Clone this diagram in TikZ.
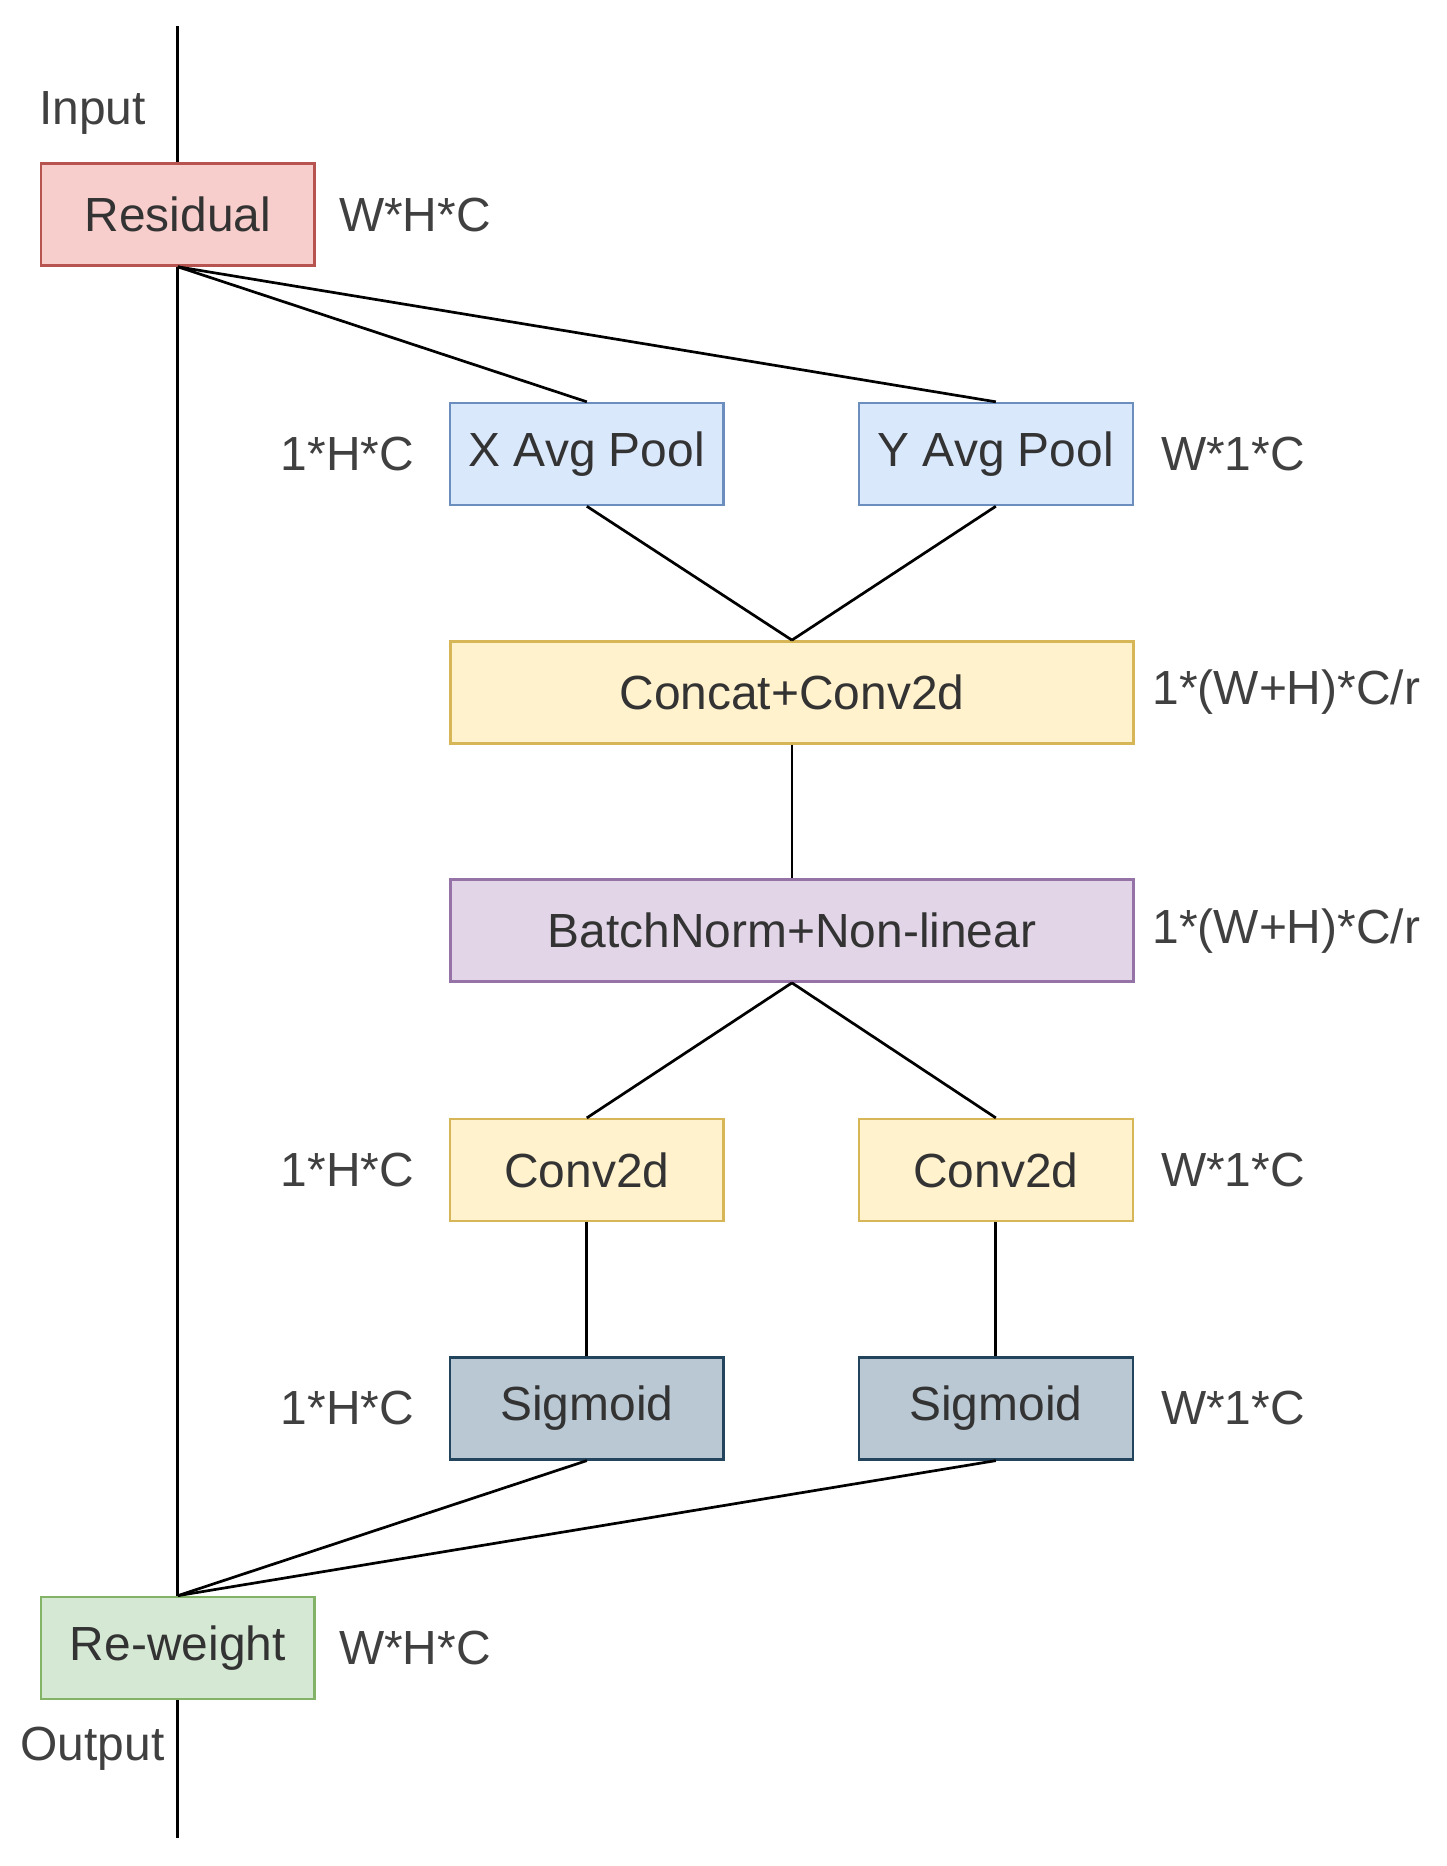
\documentclass[tikz,border=0pt]{standalone}
\usepackage{fontspec}
\setmainfont{Liberation Sans}
\begin{document}
\begin{tikzpicture}[x=0.02cm,y=-0.02cm,
  box/.style={draw,line width=1.2pt,minimum width=4.62cm,minimum height=1.72cm,inner sep=0pt,text=black!80,font=\fontsize{23}{27}\selectfont},
  wide/.style={box,minimum width=11.52cm},
  lab/.style={text=black!75,font=\fontsize{23}{27}\selectfont},
  ln/.style={line width=1.3pt}]
\useasboundingbox (0,0) rectangle (1220,1574);
\definecolor{rf}{HTML}{F8CECC}\definecolor{rs}{HTML}{B85450}
\definecolor{bf}{HTML}{DAE8FC}\definecolor{bs}{HTML}{6C8EBF}
\definecolor{yf}{HTML}{FFF2CC}\definecolor{ys}{HTML}{D6B656}
\definecolor{pf}{HTML}{E1D5E7}\definecolor{ps}{HTML}{9673A6}
\definecolor{gf}{HTML}{D5E8D4}\definecolor{gs}{HTML}{82B366}
\definecolor{sf}{HTML}{BAC8D3}\definecolor{ss}{HTML}{23445D}
\coordinate (top) at (150,22);
\coordinate (bot) at (150,1550);
\draw[ln] (top) -- (bot);
\node[box,fill=rf,draw=rs] (res) at (150,181) {Residual};
\node[box,fill=bf,draw=bs] (xp) at (495,383) {X Avg Pool};
\node[box,fill=bf,draw=bs] (yp) at (840,383) {Y Avg Pool};
\node[wide,fill=yf,draw=ys] (cc) at (668,584) {Concat+Conv2d};
\node[wide,fill=pf,draw=ps] (bn) at (668,785) {BatchNorm+Non-linear};
\node[box,fill=yf,draw=ys] (c1) at (495,987) {Conv2d};
\node[box,fill=yf,draw=ys] (c2) at (840,987) {Conv2d};
\node[box,fill=sf,draw=ss] (s1) at (495,1188) {Sigmoid};
\node[box,fill=sf,draw=ss] (s2) at (840,1188) {Sigmoid};
\node[box,fill=gf,draw=gs] (rw) at (150,1390) {Re-weight};
\node[lab] (lin) at (78,95) {Input};
\node[lab] (lout) at (78,1475) {Output};
\node[lab] (l1) at (350,181) {W*H*C};
\node[lab] (l2) at (350,1390) {W*H*C};
\node[lab] (l3) at (293,383) {1*H*C};
\node[lab] (l4) at (293,987) {1*H*C};
\node[lab] (l5) at (293,1188) {1*H*C};
\node[lab] (l6) at (1040,383) {W*1*C};
\node[lab] (l7) at (1040,987) {W*1*C};
\node[lab] (l8) at (1040,1188) {W*1*C};
\node[lab] (l9) at (1085,584) {1*(W+H)*C/r};
\node[lab] (l10) at (1085,785) {1*(W+H)*C/r};
\draw[ln] (res.south) -- (xp.north);
\draw[ln] (res.south) -- (yp.north);
\draw[ln] (xp.south) -- (cc.north);
\draw[ln] (yp.south) -- (cc.north);
\draw[ln] (cc.south) -- (bn.north);
\draw[ln] (bn.south) -- (c1.north);
\draw[ln] (bn.south) -- (c2.north);
\draw[ln] (c1.south) -- (s1.north);
\draw[ln] (c2.south) -- (s2.north);
\draw[ln] (s1.south) -- (rw.north);
\draw[ln] (s2.south) -- (rw.north);
\end{tikzpicture}
\end{document}
